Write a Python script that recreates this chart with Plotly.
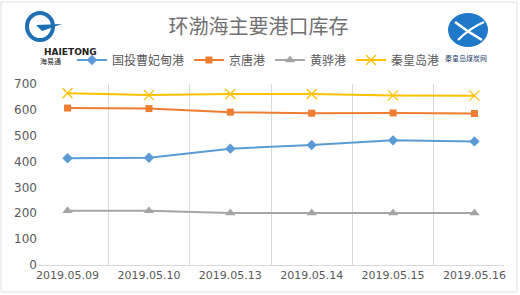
import plotly.graph_objects as go

dates = ["2019.05.09", "2019.05.10", "2019.05.13", "2019.05.14", "2019.05.15", "2019.05.16"]
caofeidian = [413, 415, 450, 464, 482, 478]
jingtang = [607, 605, 591, 587, 588, 586]
huanghua = [210, 210, 201, 201, 201, 201]
qinhuangdao = [664, 657, 661, 661, 656, 655]

names = ["国投曹妃甸港", "京唐港", "黄骅港", "秦皇岛港"]
series = [caofeidian, jingtang, huanghua, qinhuangdao]
colors = ["#5B9BD5", "#ED7D31", "#A5A5A5", "#FFC000"]
symbols = ["diamond", "square", "triangle-up", "x-thin"]
sizes = [8, 7, 9, 10]

L, R, T, B = 38, 504, 84, 265
PW, PH = R - L, B - T


def dx(px):
    return (px - L) / PW


def dy(py):
    return (B - py) / PH


fig = go.Figure()
for n, s, c, sym, sz in zip(names, series, colors, symbols, sizes):
    marker = dict(symbol=sym, size=sz, color=c)
    if sym == "x-thin":
        marker["line"] = dict(color=c, width=1.3)
    fig.add_trace(go.Scatter(x=dates, y=s, name=n, mode="lines+markers",
                             line=dict(color=c, width=2), marker=marker))

fig.update_layout(
    width=520, height=295,
    margin=dict(l=L, r=520 - R, t=T, b=295 - B, autoexpand=False),
    paper_bgcolor="white", plot_bgcolor="white",
    font=dict(family="Noto Sans CJK SC, DejaVu Sans", color="#595959", size=11),
    title=dict(text="环渤海主要港口库存", x=0.497, xanchor="center", y=1 - 27 / 295, yanchor="middle",
               font=dict(size=20, color="#707070", family="Noto Sans CJK SC")),
    legend=dict(orientation="h", xref="container", yref="container", x=0.497, xanchor="center",
                y=1 - 60 / 295, yanchor="middle", font=dict(size=12, color="#595959"),
                itemwidth=30, tracegroupgap=0, bgcolor="rgba(0,0,0,0)"),
    showlegend=True,
)
fig.update_xaxes(type="category", tickson="boundaries", showgrid=True, gridcolor="#D9D9D9", gridwidth=1,
                 showline=True, linecolor="#D9D9D9", ticks="", tickfont=dict(size=11, color="#595959",
                 family="DejaVu Sans"), fixedrange=True, zeroline=False)
fig.update_yaxes(range=[0, 700], dtick=100, showgrid=False, showline=False, zeroline=False, ticks="",
                 tickfont=dict(size=12, color="#595959", family="DejaVu Sans"), fixedrange=True)

# outer border
fig.add_shape(type="rect", xref="x domain", yref="y domain",
              x0=dx(1), x1=dx(517), y0=dy(292), y1=dy(2),
              line=dict(color="#E0E0E0", width=1))

# left logo approximation
fig.add_shape(type="circle", xref="x domain", yref="y domain",
              x0=dx(27), x1=dx(53), y0=dy(40), y1=dy(13),
              line=dict(color="#1F6FB5", width=4))
fig.add_shape(type="path", xref="x domain", yref="y domain",
              path="M %f,%f L %f,%f L %f,%f Z" % (dx(36), dy(25), dx(62), dy(24), dx(42), dy(31)),
              fillcolor="#1F6FB5", line=dict(width=0))
fig.add_annotation(text="<b>HAIETONG</b>", xref="x domain", yref="y domain",
                   x=dx(42), y=dy(45), showarrow=False,
                   font=dict(size=9, color="#222222", family="DejaVu Sans"))
fig.add_annotation(text="海易通", xref="x domain", yref="y domain",
                   x=dx(38), y=dy(54), showarrow=False,
                   font=dict(size=7, color="#222222", family="Noto Sans CJK SC"))
# right logo approximation
fig.add_shape(type="circle", xref="x domain", yref="y domain",
              x0=dx(448), x1=dx(488), y0=dy(47), y1=dy(13),
              fillcolor="#1F78C8", line=dict(width=0))
fig.add_shape(type="path", xref="x domain", yref="y domain",
              path="M %f,%f Q %f,%f %f,%f" % (dx(455), dy(22), dx(468), dy(32), dx(482), dy(40)),
              line=dict(color="white", width=2.5))
fig.add_shape(type="path", xref="x domain", yref="y domain",
              path="M %f,%f Q %f,%f %f,%f" % (dx(458), dy(40), dx(470), dy(28), dx(484), dy(22)),
              line=dict(color="white", width=2))
fig.add_annotation(text="秦皇岛煤炭网", xref="x domain", yref="y domain",
                   x=dx(443), y=dy(51), xanchor="left", showarrow=False,
                   font=dict(size=7, color="#1F3F6F", family="Noto Sans CJK SC"))

fig.write_html("out.html")
